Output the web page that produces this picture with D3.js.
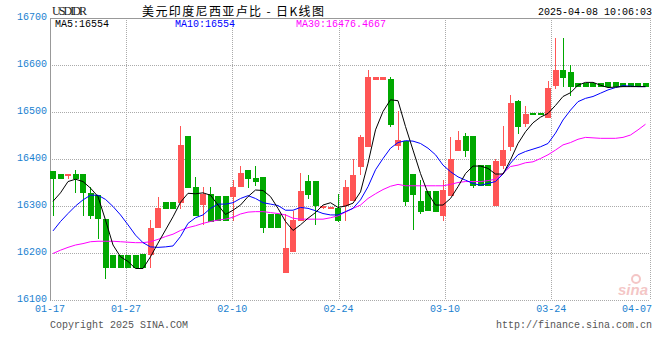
<!DOCTYPE html>
<html>
<head>
<meta charset="utf-8">
<script src="https://cdn.jsdelivr.net/npm/d3@7"></script>
<style>
	body { margin: 0; background: #fff; }
	svg text { font-family: "Liberation Mono", "DejaVu Sans Mono", monospace; font-size: 10px; }
</style>
</head>
<body>
<div id="chart"></div>
<script>
/**
 * Data
 */
var openS =  [16375,16368,16367,16368,16368,16328,16323,16272,16196,16196,
	16196,16196,16198,16196,16254,16309,16309,16307,16449,16341,
	16302,16326,16321,16321,16320,16341,16377,16360,16362,16282,
	16282,16158,16203,16269,16353,16353,16296,16296,16296,16299,
	16311,16382,16426,16569,16569,16570,16428,16438,16368,16311,
	16332,16332,16279,16321,16417,16449,16449,16387,16387,16299,
	16385,16426,16523,16474,16498,16498,16488,16556,16589,16585,
	16562,16562,16562,16562,16564,16564,16562,16562,16562,16562];
var highS =  [16375,16368,16368,16377,16368,16341,16323,16272,16196,16196,
	16196,16196,16198,16270,16320,16309,16309,16470,16449,16362,
	16341,16341,16321,16321,16355,16385,16377,16385,16362,16282,
	16282,16282,16290,16370,16366,16353,16300,16298,16325,16355,
	16400,16451,16589,16574,16574,16574,16503,16438,16368,16355,
	16332,16332,16355,16447,16460,16455,16449,16387,16387,16400,
	16470,16536,16525,16513,16498,16498,16566,16657,16657,16600,
	16562,16562,16562,16562,16564,16564,16562,16562,16562,16562];
var lowS =   [16279,16357,16357,16328,16279,16273,16229,16144,16168,16168,
	16168,16168,16168,16168,16254,16294,16294,16294,16339,16279,
	16259,16267,16269,16269,16269,16341,16339,16343,16243,16254,
	16254,16158,16203,16269,16314,16259,16294,16295,16265,16269,
	16311,16365,16426,16569,16569,16469,16419,16299,16250,16284,
	16289,16287,16269,16321,16417,16404,16339,16343,16343,16299,
	16378,16418,16453,16469,16494,16494,16488,16550,16554,16533,
	16554,16554,16554,16554,16554,16554,16554,16554,16554,16554];
var closeS = [16357,16357,16368,16357,16328,16279,16273,16168,16168,16168,
	16168,16168,16168,16254,16296,16294,16294,16430,16339,16279,
	16326,16267,16269,16269,16341,16371,16358,16350,16254,16254,
	16254,16211,16270,16332,16324,16299,16299,16297,16269,16341,
	16366,16447,16574,16574,16574,16473,16440,16309,16324,16287,
	16289,16287,16334,16400,16440,16417,16343,16343,16343,16396,
	16419,16519,16469,16496,16494,16494,16551,16589,16573,16554,
	16554,16554,16554,16554,16554,16554,16554,16554,16554,16554];

var ma5S =  [16310,16328,16352,16357,16352,16338,16320,16270,16217,16192,
	16182,16167,16167,16192,16221,16249,16277,16308,16327,16326,
	16328,16323,16302,16282,16291,16302,16320,16334,16333,16320,
	16295,16267,16248,16260,16274,16286,16302,16307,16297,16300,
	16306,16330,16391,16462,16501,16526,16524,16469,16419,16369,
	16327,16302,16302,16316,16341,16369,16385,16385,16380,16368,
	16368,16398,16433,16458,16477,16489,16497,16514,16533,16541,
	16557,16563,16563,16557,16552,16553,16554,16554,16554,16554];
var ma10S = [16247,16267,16284,16300,16313,16323,16323,16314,16299,16281,
	16260,16238,16222,16213,16212,16213,16215,16235,16263,16275,
	16281,16295,16304,16304,16307,16316,16322,16316,16307,16304,
	16301,16291,16291,16297,16295,16290,16284,16281,16281,16288,
	16295,16313,16341,16377,16401,16423,16435,16439,16438,16433,
	16423,16409,16387,16373,16362,16355,16348,16344,16348,16352,
	16368,16391,16409,16416,16421,16426,16433,16455,16483,16504,
	16522,16529,16533,16540,16547,16552,16556,16555,16554,16554];
var ma30S = [16199,16206,16212,16217,16220,16224,16225,16225,16225,16224,
	16223,16222,16222,16224,16229,16235,16240,16248,16254,16258,
	16263,16267,16270,16272,16276,16283,16287,16288,16288,16286,
	16284,16281,16274,16272,16272,16272,16272,16275,16279,16287,
	16295,16302,16316,16326,16335,16342,16346,16343,16343,16343,
	16343,16343,16343,16346,16350,16352,16352,16352,16354,16357,
	16370,16384,16387,16392,16394,16401,16409,16419,16430,16435,
	16442,16446,16445,16444,16444,16444,16446,16451,16462,16474];

var yTicks = [16100, 16200, 16300, 16400, 16500, 16600, 16700];
var xTickDays = [0, 10, 24, 38, 52, 66];
var xTickLabels = ["01-17", "01-27", "02-10", "02-24", "03-10", "03-24"];
var lastTickLabel = "04-07";

/**
 * Layout
 */
var layout = {
	width: 660, height: 360,
	left: 50, right: 650, top: 18, bottom: 300
};
var colors = {
	up: "#ff5555", down: "#00a800",
	ma5: "#000000", ma10: "#0000ff", ma30: "#ff00ff",
	axis: "#1a7fd0", grid: "#aaaaaa"
};

var svg = d3.select("#chart").append("svg")
	.attr("width", layout.width)
	.attr("height", layout.height);

// Scales
var x = d3.scaleBand()
	.domain(d3.range(closeS.length))
	.range([layout.left - 0.75, layout.right - 0.75])
	.paddingInner(0.2).paddingOuter(0.1);
var xDay = d3.scaleLinear().domain([0, 79]).range([layout.left, layout.right]);
var y = d3.scaleLinear().domain([16100, 16700]).range([layout.bottom, layout.top]);

function cx(i) { return Math.floor(x(i) + x.bandwidth() / 2) + 0.5; }
function py(v) { return Math.round(y(v)); }

// Grid
var grid = svg.append("g").attr("class", "grid");
grid.selectAll("line.h").data(yTicks.slice(0, -1)).enter().append("line")
	.attr("x1", layout.left).attr("x2", layout.right)
	.attr("y1", function(d) { return py(d) + 0.5; })
	.attr("y2", function(d) { return py(d) + 0.5; })
	.attr("stroke", colors.grid).attr("stroke-dasharray", "1,1");
grid.selectAll("line.v").data(xTickDays.slice(1)).enter().append("line")
	.attr("x1", function(d) { return Math.round(xDay(d)) + 0.5; })
	.attr("x2", function(d) { return Math.round(xDay(d)) + 0.5; })
	.attr("y1", layout.top).attr("y2", layout.bottom)
	.attr("stroke", colors.grid).attr("stroke-dasharray", "1,1");
grid.append("line")
	.attr("x1", layout.right + 0.5).attr("x2", layout.right + 0.5)
	.attr("y1", layout.top).attr("y2", layout.bottom)
	.attr("stroke", colors.grid).attr("stroke-dasharray", "1,1");
grid.append("line")
	.attr("x1", layout.left).attr("x2", layout.right)
	.attr("y1", py(16700) + 0.5).attr("y2", py(16700) + 0.5)
	.attr("stroke", "#999");
grid.append("line")
	.attr("x1", layout.left + 0.5).attr("x2", layout.left + 0.5)
	.attr("y1", layout.top).attr("y2", layout.bottom + 1)
	.attr("stroke", "#999");

// Watermark
var mark = svg.append("g").attr("opacity", 0.4);
mark.append("text")
	.attr("x", 648).attr("y", 295).attr("text-anchor", "end")
	.style("font-family", "Liberation Sans, sans-serif")
	.style("font-size", "15px").style("font-weight", "bold").style("font-style", "italic")
	.attr("fill", "#e57373").text("sina");
mark.append("circle").attr("cx", 636).attr("cy", 279).attr("r", 4)
	.attr("fill", "none").attr("stroke", "#e57373").attr("stroke-width", 2);

// Candles
var candles = svg.append("g").attr("class", "candles").attr("shape-rendering", "crispEdges");
closeS.forEach(function(c, i) {
	var o = openS[i];
	var col = (c > o) ? colors.up : colors.down;
	candles.append("line")
		.attr("x1", cx(i)).attr("x2", cx(i))
		.attr("y1", py(highS[i])).attr("y2", py(lowS[i]))
		.attr("stroke", col);
	var top = py(Math.max(o, c)), bot = py(Math.min(o, c));
	candles.append("rect")
		.attr("x", Math.round(x(i)))
		.attr("width", Math.round(x.bandwidth()))
		.attr("y", top)
		.attr("height", Math.max(bot - top, 2))
		.attr("fill", col);
});

// MA lines
var line = d3.line()
	.x(function(d, i) { return x(i) + x.bandwidth() / 2; })
	.y(function(d) { return y(d); });
[[ma30S, colors.ma30], [ma10S, colors.ma10], [ma5S, colors.ma5]].forEach(function(s) {
	svg.append("path").datum(s[0])
		.attr("d", line)
		.attr("fill", "none")
		.attr("stroke", s[1])
		.attr("stroke-width", 1);
});

// Y axis labels
svg.append("g").selectAll("text").data(yTicks).enter().append("text")
	.attr("x", 47).attr("y", function(d) { return py(d) + 2; })
	.attr("text-anchor", "end").attr("fill", colors.axis)
	.text(function(d) { return d; });

// X axis labels
svg.append("g").selectAll("text").data(xTickDays).enter().append("text")
	.attr("x", function(d) { return xDay(d); }).attr("y", 312)
	.attr("text-anchor", "middle").attr("fill", colors.axis)
	.text(function(d, i) { return xTickLabels[i]; });
svg.append("text").attr("x", 652).attr("y", 312)
	.attr("text-anchor", "end").attr("fill", colors.axis).text(lastTickLabel);

// Header
svg.append("text").attr("x", 52).attr("y", 15)
	.style("font-family", "Liberation Serif, serif").style("font-size", "12px")
	.attr("textLength", 35).attr("fill", "#222").text("USDIDR");
svg.append("text").attr("x", 142).attr("y", 16)
	.style("font-family", "Noto Sans CJK SC, sans-serif").style("font-size", "12px")
	.attr("textLength", 182).attr("lengthAdjust", "spacing")
	.attr("fill", "#000").text("美元印度尼西亚卢比 - 日K线图");
svg.append("text").attr("x", 652).attr("y", 15).attr("text-anchor", "end")
	.attr("fill", "#000").text("2025-04-08 10:06:03");

// Legend
svg.append("text").attr("x", 55).attr("y", 27).attr("fill", colors.ma5).text("MA5:16554");
svg.append("text").attr("x", 175).attr("y", 27).attr("fill", colors.ma10).text("MA10:16554");
svg.append("text").attr("x", 296).attr("y", 27).attr("fill", colors.ma30).text("MA30:16476.4667");

// Footer
svg.append("text").attr("x", 50).attr("y", 328).attr("fill", "#555").text("Copyright 2025 SINA.COM");
svg.append("text").attr("x", 652).attr("y", 328).attr("text-anchor", "end")
	.attr("fill", "#555").text("http://finance.sina.com.cn");
</script>
</body>
</html>
